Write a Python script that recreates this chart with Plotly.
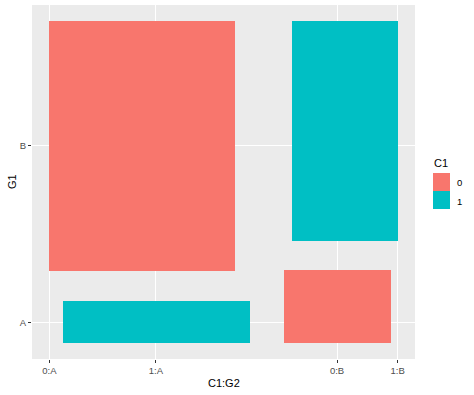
import plotly.graph_objects as go

# Mosaic cells (proportion space 0..1)
cell_c1 = ["0", "1", "1", "0"]          # fill group
cell_g1 = ["B", "B", "A", "A"]
cell_x0 = [0.000, 0.696, 0.039, 0.673]
cell_width = [0.533, 0.304, 0.536, 0.307]
cell_y0 = [0.2235, 0.3167, 0.000, 0.000]
cell_height = [0.7765, 0.6833, 0.130, 0.2256]

x_tick_vals = [0.0, 0.306, 0.826, 1.0]
x_tick_text = ["0:A", "1:A", "0:B", "1:B"]
y_tick_vals = [0.064, 0.612]
y_tick_text = ["A", "B"]

fill_colors = {"0": "#F8766D", "1": "#00BFC4"}
legend_levels = ["0", "1"]

W, H = 474, 395
PL, PR, PT, PB = 32, 415, 5, 359  # panel pixel box

fig = go.Figure()
for lvl in legend_levels:
    idx = [i for i, c in enumerate(cell_c1) if c == lvl]
    fig.add_trace(go.Bar(
        x=[cell_x0[i] + cell_width[i] / 2 for i in idx],
        width=[cell_width[i] for i in idx],
        base=[cell_y0[i] for i in idx],
        y=[cell_height[i] for i in idx],
        marker=dict(color=fill_colors[lvl], line=dict(width=0)),
        showlegend=False,
        hoverinfo="skip",
    ))

font_family = "Liberation Sans, Arial, sans-serif"

def px_x(p):
    return (p - PL) / (PR - PL)

def px_y(p):
    return (PB - p) / (PB - PT)

shapes = []
annotations = []
# custom legend
annotations.append(dict(x=px_x(432), y=px_y(163), xref="paper", yref="paper",
                        text="C1", showarrow=False, xanchor="left", yanchor="middle",
                        font=dict(family=font_family, size=11, color="#000000")))
key_top = 173
for k, lvl in enumerate(legend_levels):
    y0 = key_top + k * 18
    shapes.append(dict(type="rect", xref="paper", yref="paper",
                       x0=px_x(433), x1=px_x(450), y0=px_y(y0 + 18), y1=px_y(y0),
                       fillcolor=fill_colors[lvl], line=dict(width=0), layer="above"))
    annotations.append(dict(x=px_x(455), y=px_y(y0 + 10), xref="paper", yref="paper",
                            text=lvl, showarrow=False, xanchor="left", yanchor="middle",
                            font=dict(family=font_family, size=9.5, color="#000000")))
# axis titles
annotations.append(dict(x=0.5, y=px_y(383), xref="paper", yref="paper", text="C1:G2",
                        showarrow=False, xanchor="center", yanchor="middle",
                        font=dict(family=font_family, size=11, color="#000000")))
annotations.append(dict(x=px_x(12), y=0.5, xref="paper", yref="paper", text="G1",
                        showarrow=False, xanchor="center", yanchor="middle", textangle=-90,
                        font=dict(family=font_family, size=11, color="#000000")))

fig.update_layout(
    width=W, height=H,
    margin=dict(l=PL, r=W - PR, t=PT, b=H - PB, pad=0),
    plot_bgcolor="#EBEBEB", paper_bgcolor="#FFFFFF",
    barmode="overlay", bargap=0,
    shapes=shapes, annotations=annotations,
    font=dict(family=font_family),
)
fig.update_xaxes(range=[-0.05, 1.05], tickvals=x_tick_vals, ticktext=x_tick_text,
                 showgrid=True, gridcolor="#FFFFFF", gridwidth=1, zeroline=False,
                 ticks="outside", ticklen=3, tickwidth=1, tickcolor="#333333",
                 tickfont=dict(family=font_family, size=9.5, color="#4D4D4D"),
                 showline=False, fixedrange=True)
fig.update_yaxes(range=[-0.05, 1.05], tickvals=y_tick_vals, ticktext=y_tick_text,
                 showgrid=True, gridcolor="#FFFFFF", gridwidth=1, zeroline=False,
                 ticks="outside", ticklen=3, tickwidth=1, tickcolor="#333333",
                 tickfont=dict(family=font_family, size=9.5, color="#4D4D4D"),
                 showline=False, fixedrange=True)

fig.write_html("out.html")
